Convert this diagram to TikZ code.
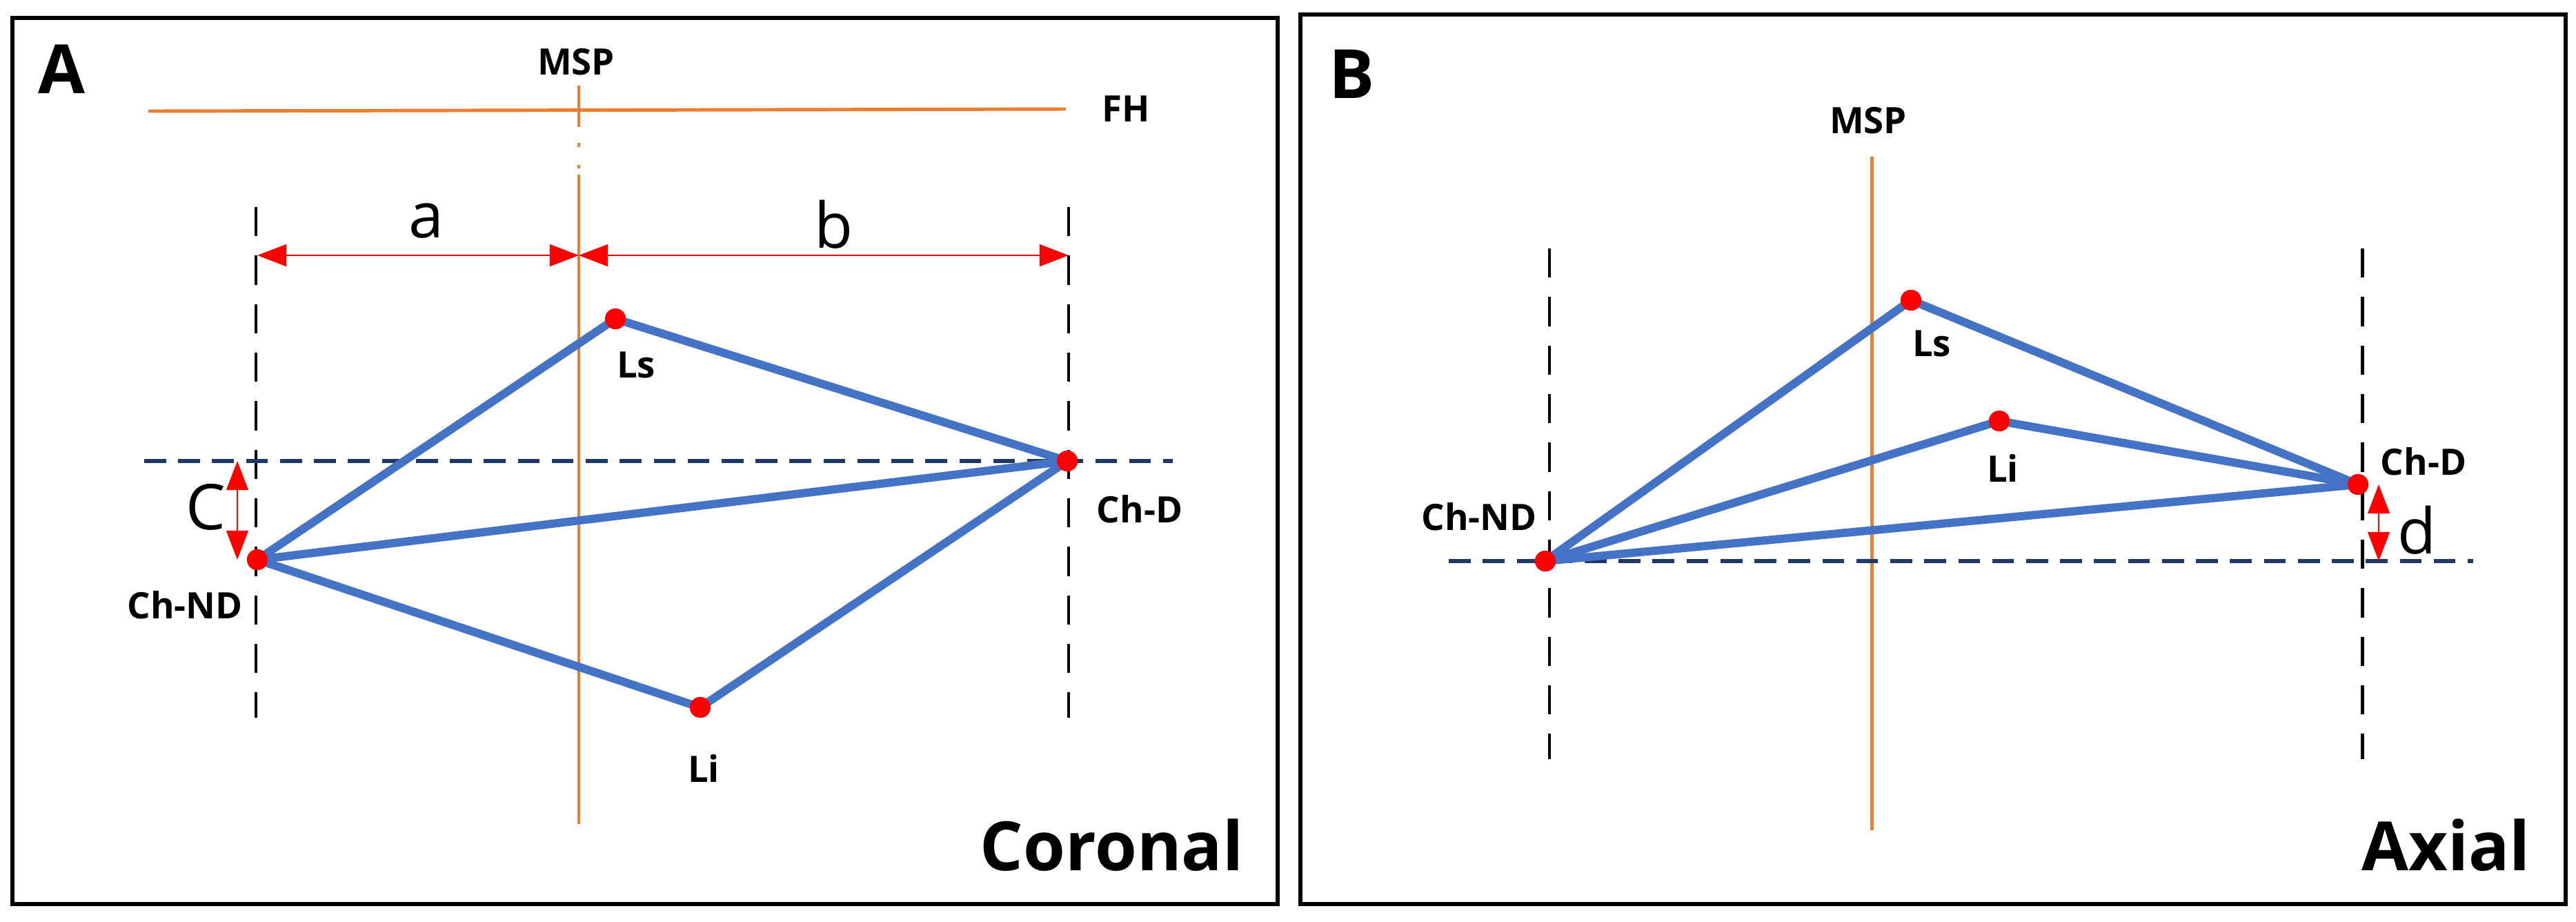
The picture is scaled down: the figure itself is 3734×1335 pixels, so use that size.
\documentclass[tikz,border=0pt]{standalone}
\usepackage{fontspec}
\setmainfont{Open Sans}
\usetikzlibrary{arrows.meta}
\definecolor{bl}{HTML}{4472C4}
\definecolor{orng}{HTML}{ED7D31}
\definecolor{navy}{HTML}{1F3864}
\begin{document}
\begin{tikzpicture}[x=0.01cm,y=-0.01cm,
  pt/.style={circle,fill=red,inner sep=0,minimum size=30*0.01cm},
  lbl/.style={font=\bfseries\fontsize{15}{17}\selectfont},
  big/.style={font=\bfseries\fontsize{28}{30}\selectfont},
  dim/.style={font=\fontsize{26}{28}\selectfont},
  tri/.style={bl,line width=3.4pt},
  msp/.style={orng,line width=1.4pt},
  vd/.style={black,line width=1.4pt,dash pattern=on 12pt off 8pt},
  hd/.style={navy,line width=1.8pt,dash pattern=on 9pt off 5pt},
  ar/.style={red,line width=0.8pt,{Triangle[length=12pt,width=9pt]}-{Triangle[length=12pt,width=9pt]}}]
\useasboundingbox (0,0) rectangle (3734,1335);
% Panel A
\draw[line width=1.6pt] (18,26) rectangle (1852,1310);
\node[big] (A) at (89,100) {A};
\node[lbl] (mspA) at (835,90) {MSP};
\coordinate (fh1) at (215,161); \coordinate (fh2) at (1545,158);
\draw[msp] (fh1) -- (fh2);
\node[lbl,anchor=west] (fh) at (1585,158) {FH};
\draw[msp] (839,124) -- (839,184);
\draw[msp] (839,207) -- (839,213);
\draw[msp] (839,239) -- (839,244);
\coordinate (mA1) at (839,253); \coordinate (mA2) at (839,1194);
\draw[msp] (mA1) -- (mA2);
\draw[vd] (371,300) -- (371,1040);
\draw[vd] (1549,300) -- (1549,1040);
\draw[hd] (209,668) -- (1700,668);
\node[pt] (LsA) at (892,462) {};
\node[pt] (ChDA) at (1547,668) {};
\node[pt] (ChNDA) at (373,811) {};
\node[pt] (LiA) at (1015,1025) {};
\draw[tri,line join=round] (LsA.center) -- (ChDA.center) -- (LiA.center) -- (ChNDA.center) -- cycle;
\draw[tri] (ChNDA.center) -- (ChDA.center);
\foreach \n in {LsA,ChDA,ChNDA,LiA} \node[pt] at (\n) {};
\node[lbl] at (922,529) {Ls};
\node[lbl] at (1652,738) {Ch-D};
\node[lbl] at (268,877) {Ch-ND};
\node[lbl] at (1020,1113) {Li};
\coordinate (aL) at (373,370); \coordinate (aM) at (839,370); \coordinate (aR) at (1549,370);
\draw[ar] (aL) -- (aM);
\draw[ar] (aM) -- (aR);
\node[dim] at (618,320) {a};
\node[dim] at (1208,325) {b};
\coordinate (c1) at (344,668); \coordinate (c2) at (344,811);
\draw[ar] (c1) -- (c2);
\node[dim] at (298,735) {C};
\node[big,anchor=south east] at (1815,1275) {Coronal};
% Panel B
\draw[line width=1.6pt] (1885,21) rectangle (3719,1310);
\node[big] (B) at (1960,107) {B};
\node[lbl] (mspB) at (2708,175) {MSP};
\draw[msp] (2713,227) -- (2713,1203);
\draw[vd] (2246,360) -- (2246,1100);
\draw[vd] (3424,360) -- (3424,1100);
\draw[hd] (2100,813) -- (3585,813);
\node[pt] (LsB) at (2770,435) {};
\node[pt] (LiB) at (2898,610) {};
\node[pt] (ChDB) at (3418,702) {};
\node[pt] (ChNDB) at (2240,813) {};
\draw[tri,line join=round] (ChNDB.center) -- (LsB.center) -- (ChDB.center) -- cycle;
\draw[tri,line join=round] (ChNDB.center) -- (LiB.center) -- (ChDB.center);
\foreach \n in {LsB,LiB,ChDB,ChNDB} \node[pt] at (\n) {};
\node[lbl] at (2800,498) {Ls};
\node[lbl] at (2903,678) {Li};
\node[lbl] at (3513,669) {Ch-D};
\node[lbl] at (2144,749) {Ch-ND};
\coordinate (d1) at (3448,702); \coordinate (d2) at (3448,813);
\draw[ar] (d1) -- (d2);
\node[dim] at (3503,768) {d};
\node[big,anchor=south east] at (3680,1275) {Axial};
\end{tikzpicture}
\end{document}
